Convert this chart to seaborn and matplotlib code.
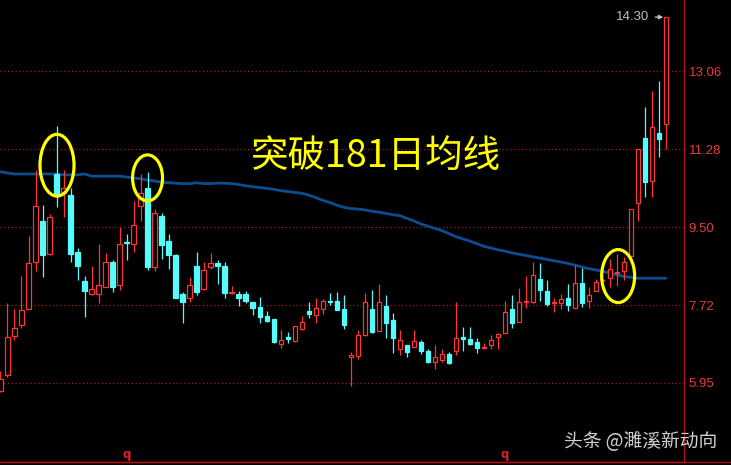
import numpy as np
import pandas as pd
import matplotlib
matplotlib.use("Agg")
import matplotlib.pyplot as plt
import seaborn as sns
from matplotlib.patches import Ellipse
from matplotlib.lines import Line2D

# ---------------- data ----------------
opens = [5.77, 6.14, 7.03, 7.28, 7.64, 8.72, 9.64, 8.89, 10.71, 10.28,
         10.23, 8.93, 8.27, 7.99, 7.99, 8.15, 8.70, 8.18, 9.17, 9.13,
         10.00, 10.40, 8.60, 9.76, 9.19, 8.87, 7.98, 7.89, 8.62, 8.10,
         8.60, 8.69, 8.62, 8.00, 7.99, 7.99, 7.80, 7.68, 7.48, 7.41,
         6.85, 6.99, 6.91, 7.19, 7.59, 7.51, 7.64, 7.82, 7.82, 7.64,
         6.54, 6.57, 7.05, 7.64, 7.14, 7.70, 7.38, 6.72, 6.81, 6.78,
         6.88, 6.68, 6.44, 6.48, 6.62, 6.68, 7.00, 6.95, 6.88, 6.74,
         6.81, 6.99, 7.10, 7.63, 7.35, 7.80, 7.80, 8.32, 8.05, 7.77,
         7.78, 7.89, 7.67, 8.23, 7.83, 8.05, 8.29, 8.34, 8.46, 8.50,
         8.85, 10.05, 11.55, 10.56, 11.65, 11.85]
highs = [6.22, 7.78, 7.64, 8.39, 9.30, 10.81, 10.01, 9.80, 11.81, 10.81,
         10.41, 9.02, 8.40, 8.62, 9.12, 8.91, 8.75, 9.50, 9.35, 10.10,
         10.72, 10.76, 9.92, 9.83, 9.35, 8.89, 8.02, 8.37, 8.94, 8.71,
         8.91, 8.75, 8.71, 8.17, 8.04, 8.05, 7.80, 7.91, 7.59, 7.41,
         7.16, 7.11, 7.25, 7.48, 7.80, 7.90, 7.86, 8.00, 8.02, 7.96,
         6.65, 7.16, 8.00, 8.07, 8.21, 7.96, 7.55, 7.16, 6.81, 7.16,
         6.93, 6.72, 6.81, 6.72, 6.65, 7.80, 7.22, 7.22, 6.97, 6.86,
         7.04, 7.10, 7.82, 7.96, 8.11, 8.39, 8.71, 8.69, 8.30, 7.89,
         7.98, 8.21, 8.64, 8.57, 8.14, 8.32, 8.33, 8.77, 8.89, 8.83,
         9.93, 11.28, 12.25, 12.62, 12.85, 14.30]
lows = [5.74, 6.09, 6.93, 7.21, 7.63, 8.51, 8.37, 8.88, 9.96, 9.74,
        8.72, 8.30, 7.46, 7.96, 7.78, 8.14, 8.03, 8.07, 8.75, 8.94,
        9.65, 8.53, 8.51, 8.78, 8.56, 7.88, 7.32, 7.80, 7.96, 8.07,
        8.56, 8.21, 7.89, 7.99, 7.71, 7.78, 7.50, 7.31, 7.35, 6.86,
        6.75, 6.86, 6.89, 7.16, 7.44, 7.32, 7.53, 7.73, 7.61, 7.18,
        5.89, 6.49, 7.02, 7.08, 7.13, 6.97, 6.64, 6.59, 6.55, 6.76,
        6.62, 6.41, 6.27, 6.44, 6.39, 6.59, 6.68, 6.81, 6.63, 6.72,
        6.73, 6.73, 7.09, 7.21, 7.34, 7.65, 7.77, 7.83, 7.71, 7.58,
        7.64, 7.59, 7.66, 7.69, 7.66, 8.04, 8.27, 8.13, 8.16, 8.31,
        8.85, 9.65, 10.19, 10.19, 11.11, 11.29]
closes = [6.03, 6.99, 7.20, 7.61, 8.68, 9.98, 8.88, 9.73, 10.24, 10.41,
          8.90, 8.62, 8.05, 8.09, 8.18, 8.70, 8.15, 9.13, 9.15, 9.55,
          10.28, 8.60, 9.83, 9.10, 8.87, 7.89, 7.80, 8.18, 8.03, 8.53,
          8.68, 8.62, 8.01, 8.01, 7.89, 7.82, 7.66, 7.46, 7.37, 6.89,
          6.94, 6.95, 7.24, 7.35, 7.53, 7.65, 7.83, 7.79, 7.61, 7.27,
          6.59, 7.04, 7.80, 7.12, 7.79, 7.32, 6.98, 6.92, 6.66, 6.90,
          6.68, 6.43, 6.54, 6.62, 6.40, 6.97, 6.96, 6.84, 6.75, 6.76,
          6.94, 7.06, 7.56, 7.32, 7.79, 7.82, 8.41, 8.08, 7.76, 7.79,
          7.86, 7.73, 8.24, 7.78, 7.95, 8.25, 8.31, 8.54, 8.48, 8.72,
          9.93, 11.28, 10.54, 11.79, 11.52, 14.30]
ma181 = [10.77, 10.74, 10.72, 10.72, 10.72, 10.72, 10.72, 10.72, 10.72, 10.70,
         10.70, 10.70, 10.72, 10.67, 10.67, 10.67, 10.67, 10.67, 10.65, 10.63,
         10.61, 10.58, 10.56, 10.53, 10.52, 10.51, 10.50, 10.50, 10.52, 10.50,
         10.50, 10.51, 10.51, 10.50, 10.48, 10.45, 10.43, 10.41, 10.39, 10.37,
         10.34, 10.32, 10.30, 10.28, 10.24, 10.18, 10.12, 10.07, 10.01, 9.96,
         9.93, 9.92, 9.90, 9.87, 9.85, 9.82, 9.79, 9.77, 9.71, 9.65,
         9.58, 9.53, 9.48, 9.43, 9.36, 9.29, 9.24, 9.19, 9.13, 9.07,
         9.03, 8.99, 8.96, 8.92, 8.89, 8.86, 8.83, 8.80, 8.77, 8.74,
         8.71, 8.68, 8.64, 8.60, 8.56, 8.53, 8.50, 8.46, 8.42, 8.38,
         8.36, 8.34, 8.34, 8.34, 8.34, 8.34]

ytick_values = [5.95, 7.72, 9.50, 11.28, 13.06]
ytick_labels = ["5.95", "7.72", "9.50", "11.28", "13.06"]
title_text = "突破181日均线"
watermark_text = "头条 @濉溪新动向"
last_label = "14.30"
q_positions = [18, 72]
# highlight circles: (candle index, price, width in candles, height in price)
circles = [(8.07, 10.92, 4.86, 1.41), (21.0, 10.63, 4.28, 1.05), (88.2, 8.39, 4.71, 1.21)]

# ---------------- style ----------------
sns.set_theme(style="dark", rc={"axes.facecolor": "black", "figure.facecolor": "black"})
plt.rcParams["font.family"] = ["Liberation Sans", "Noto Sans CJK SC", "DejaVu Sans"]

RED = "#ff3434"
CYAN = "#54fcfc"
AXRED = "#b01010"

df = pd.DataFrame({"i": np.arange(len(opens)), "open": opens, "high": highs,
                   "low": lows, "close": closes, "ma": ma181})
df["up"] = df["close"] >= df["open"]
df["bottom"] = df[["open", "close"]].min(axis=1)
df["height"] = (df["close"] - df["open"]).abs().clip(lower=0.02)

W, H = 731, 465
fig = plt.figure(figsize=(W / 100, H / 100), dpi=100)
ax = fig.add_axes([0, 2.7 / H, 684.3 / W, 462.3 / H])
ax.set_facecolor("black")

# MA line
sns.lineplot(data=df, x="i", y="ma", ax=ax, color="#0c4c90", linewidth=2.0, zorder=1)

# wicks
ax.vlines(df["i"], df["low"], df["high"],
          colors=np.where(df["up"], RED, CYAN), linewidth=0.9, zorder=2)
# bodies
up = df[df["up"]]
dn = df[~df["up"]]
ax.bar(up["i"], up["height"], bottom=up["bottom"], width=0.6,
       facecolor="black", edgecolor=RED, linewidth=0.9, zorder=3)
ax.bar(dn["i"], dn["height"], bottom=dn["bottom"], width=0.6,
       facecolor=CYAN, edgecolor=CYAN, linewidth=0.9, zorder=3)

# circles
for cx, cy, cw, ch in circles:
    ax.add_patch(Ellipse((cx, cy), cw, ch, fill=False, edgecolor="#ffff00",
                         linewidth=2.3, zorder=5))

# axes limits
ax.set_xlim(-0.07, -0.07 + 684.3 / 7.003)
ax.set_ylim(4.14, 14.69)
ax.set_xlabel("")
ax.set_ylabel("")
ax.set_xticks([])
ax.yaxis.tick_right()
ax.set_yticks(ytick_values)
ax.set_yticklabels(ytick_labels)
ax.tick_params(axis="y", length=0, pad=3, labelsize=9.5, labelcolor="#e83a3a")
ax.grid(False)
for v in ytick_values:
    ax.axhline(v, color="#a01818", linestyle=(0, (1, 2)), linewidth=0.9, zorder=0)

for s in ["top", "left"]:
    ax.spines[s].set_visible(False)
ax.spines["right"].set_color(AXRED)
ax.spines["right"].set_linewidth(1.0)
ax.spines["bottom"].set_color(AXRED)
ax.spines["bottom"].set_linewidth(1.0)
fig.add_artist(Line2D([0, 1], [2.7 / H, 2.7 / H], color=AXRED, linewidth=1.0,
                      transform=fig.transFigure))

# last price label with arrow
ax.annotate(last_label, xy=(df["i"].iloc[-1] - 0.35, df["high"].iloc[-1]),
            xytext=(-14, 0), textcoords="offset pixels", ha="right", va="center",
            color="#b4c0cc", fontsize=9.5,
            arrowprops=dict(arrowstyle="-|>", color="#b4c0cc", lw=1.0,
                            shrinkA=2, shrinkB=0, mutation_scale=6))

# q markers
trans = ax.get_xaxis_transform()
for q in q_positions:
    ax.text(q, 0.009, "q", transform=trans, color="#e02020", fontsize=8.5,
            ha="center", va="baseline", fontweight="bold", family="DejaVu Sans")

# title
fig.text(376 / W, 1 - 156 / H, title_text, color="#ffff00", fontsize=27,
         ha="center", va="center", family=["Noto Sans CJK SC", "DejaVu Sans"])

# watermark
fig.text(641 / W, 1 - 441 / H, watermark_text, color="#e8e8e8", fontsize=13.5,
         ha="center", va="center", alpha=0.9, family=["Noto Sans CJK SC", "DejaVu Sans"])

fig.savefig("out.png", dpi=100, facecolor="black")
